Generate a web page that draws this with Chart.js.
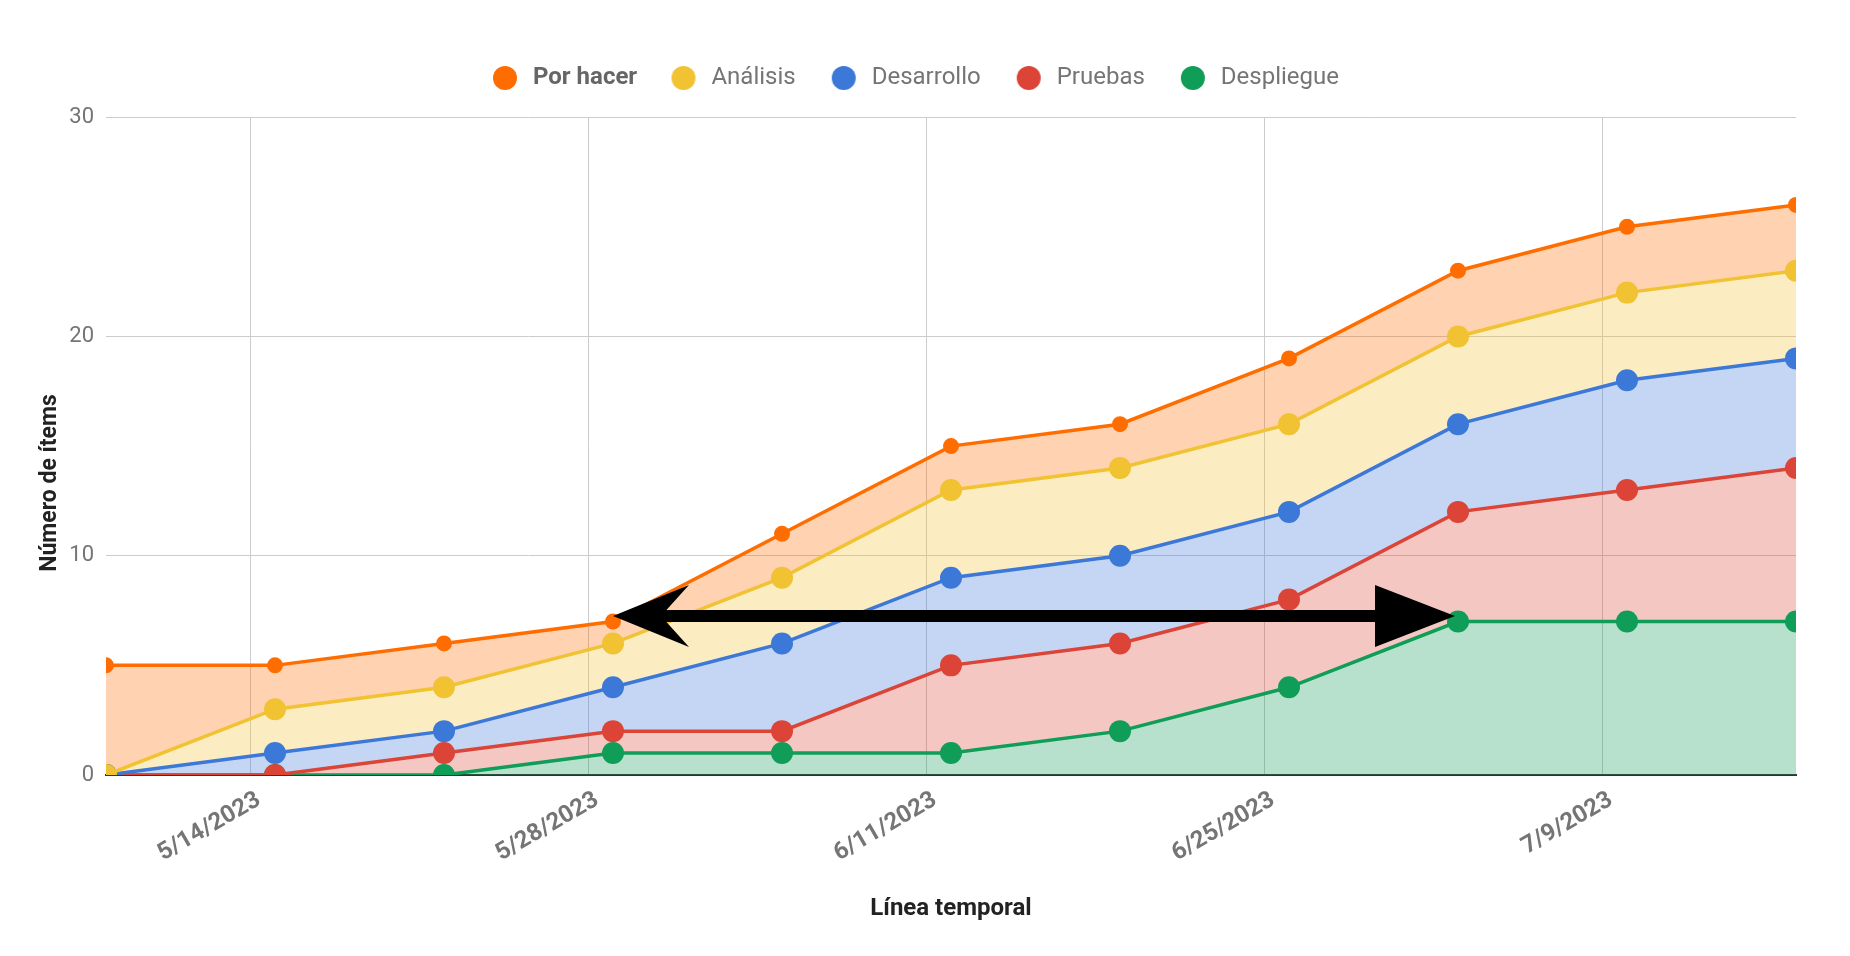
<!DOCTYPE html>
<html>
<head>
<meta charset="utf-8">
<script src="https://cdn.jsdelivr.net/npm/chart.js@4.4.0/dist/chart.umd.min.js"></script>
<style>
  html, body { margin: 0; padding: 0; background: #ffffff; }
  #wrap { width: 1850px; height: 956px; position: relative; }
</style>
</head>
<body>
<div id="wrap"><canvas id="c" width="1850" height="956"></canvas></div>
<script>
// ---------- data ----------
const categories = ['5/8/2023','5/15/2023','5/22/2023','5/29/2023','6/5/2023','6/12/2023','6/19/2023','6/26/2023','7/3/2023','7/10/2023','7/17/2023'];
const seriesNames = ['Por hacer','Análisis','Desarrollo','Pruebas','Despliegue'];
const porHacer   = [5, 5, 6, 7, 11, 15, 16, 19, 23, 25, 26];
const analisis   = [0, 3, 4, 6,  9, 13, 14, 16, 20, 22, 23];
const desarrollo = [0, 1, 2, 4,  6,  9, 10, 12, 16, 18, 19];
const pruebas    = [0, 0, 1, 2,  2,  5,  6,  8, 12, 13, 14];
const despliegue = [0, 0, 0, 1,  1,  1,  2,  4,  7,  7,  7];
const xTickLabels = ['5/14/2023','5/28/2023','6/11/2023','6/25/2023','7/9/2023'];
const yTickValues = [0, 10, 20, 30];
const xTitle = 'Línea temporal';
const yTitle = 'Número de ítems';
const arrowFrom = '5/29/2023';
const arrowTo = '7/3/2023';
const arrowLevel = 7.25;

// ---------- styles ----------
const seriesColors = ['#FF6D01', '#F1C232', '#3C78D8', '#DB4437', '#0F9D58'];
const FONT = 'Roboto';

function dayNum(s) {
  const [m, d, y] = s.split('/').map(Number);
  return Date.UTC(y, m - 1, d) / 86400000;
}
function rgba(hex, a) {
  const n = parseInt(hex.slice(1), 16);
  return `rgba(${(n >> 16) & 255},${(n >> 8) & 255},${n & 255},${a})`;
}
function makeDot(color) {
  const cv = document.createElement('canvas');
  cv.width = 40; cv.height = 26;
  const g = cv.getContext('2d');
  g.fillStyle = color;
  g.beginPath(); g.arc(16, 13, 12, 0, Math.PI * 2); g.fill();
  return cv;
}

const seriesValues = [porHacer, analisis, desarrollo, pruebas, despliegue];
const datasets = seriesValues.map((vals, i) => ({
  label: seriesNames[i],
  data: categories.map((c, j) => ({ x: dayNum(c), y: vals[j] })),
  borderColor: seriesColors[i],
  backgroundColor: rgba(seriesColors[i], 0.3),
  pointBackgroundColor: seriesColors[i],
  pointBorderColor: seriesColors[i],
  pointBorderWidth: 0,
  pointRadius: i === 0 ? 8 : 11,
  borderWidth: 3.5,
  tension: 0,
  fill: i < seriesValues.length - 1 ? '+1' : 'origin',
  clip: 0
}));

const arrowPlugin = {
  id: 'arrowAnno',
  afterDatasetsDraw(chart) {
    const { ctx, scales: { x, y } } = chart;
    const x1 = x.getPixelForValue(dayNum(arrowFrom));
    const x2 = x.getPixelForValue(dayNum(arrowTo)) - 3;
    const yy = y.getPixelForValue(arrowLevel);
    ctx.save();
    ctx.fillStyle = '#000';
    ctx.strokeStyle = '#000';
    ctx.lineWidth = 12;
    ctx.beginPath();
    ctx.moveTo(x1 + 45, yy);
    ctx.lineTo(x2 - 70, yy);
    ctx.stroke();
    ctx.beginPath();
    ctx.moveTo(x1, yy);
    ctx.lineTo(x1 + 76, yy - 31);
    ctx.lineTo(x1 + 48, yy);
    ctx.lineTo(x1 + 76, yy + 31);
    ctx.closePath();
    ctx.fill();
    ctx.beginPath();
    ctx.moveTo(x2, yy);
    ctx.lineTo(x2 - 80, yy - 31);
    ctx.lineTo(x2 - 80, yy + 31);
    ctx.closePath();
    ctx.fill();
    ctx.restore();
  }
};

const extrasPlugin = {
  id: 'extras',
  afterDraw(chart) {
    const { ctx } = chart;
    ctx.save();
    ctx.translate(50, chart.height / 2 + 5);
    ctx.rotate(-Math.PI / 2);
    ctx.font = `bold 23px ${FONT}`;
    ctx.fillStyle = '#222222';
    ctx.textAlign = 'center';
    ctx.textBaseline = 'middle';
    ctx.fillText(yTitle, 0, 0);
    ctx.restore();
    const lg = chart.legend;
    if (lg && lg.legendHitBoxes && lg.legendHitBoxes[0]) {
      const hb = lg.legendHitBoxes[0];
      const tx = hb.left + 24 + 12;
      const ty = hb.top + hb.height / 2;
      ctx.save();
      ctx.font = `24px ${FONT}`;
      const w = ctx.measureText(seriesNames[0]).width;
      ctx.fillStyle = '#ffffff';
      ctx.fillRect(tx - 1, hb.top - 4, w + 3, hb.height + 8);
      ctx.font = `bold 24px ${FONT}`;
      ctx.fillStyle = '#666666';
      ctx.textAlign = 'left';
      ctx.textBaseline = 'middle';
      ctx.fillText(seriesNames[0], tx, ty);
      ctx.restore();
    }
  }
};

Chart.defaults.font.family = FONT;

new Chart(document.getElementById('c'), {
  type: 'line',
  data: { datasets },
  options: {
    responsive: false,
    animation: false,
    events: [],
    layout: { padding: { top: 26, right: 54, bottom: 33, left: 40 } },
    plugins: {
      filler: { drawTime: 'beforeDatasetsDraw' },
      tooltip: { enabled: false },
      title: {
        display: true,
        text: '',
        weight: 100,
        font: { size: 1 },
        padding: { top: 16, bottom: 0 }
      },
      legend: {
        position: 'top',
        align: 'center',
        labels: {
          font: { size: 24, family: FONT },
          color: '#757575',
          usePointStyle: true,
          boxWidth: 24,
          boxHeight: 24,
          padding: 40,
          generateLabels(chart) {
            return chart.data.datasets.map((ds, i) => ({
              text: ds.label,
              fillStyle: ds.borderColor,
              strokeStyle: ds.borderColor,
              lineWidth: 0,
              pointStyle: makeDot(ds.borderColor),
              hidden: false,
              datasetIndex: i,
              fontColor: '#757575'
            }));
          }
        }
      }
    },
    scales: {
      x: {
        type: 'linear',
        min: dayNum(categories[0]),
        max: dayNum(categories[categories.length - 1]),
        afterBuildTicks(scale) {
          scale.ticks = xTickLabels.map(s => ({ value: dayNum(s) }));
        },
        afterFit(scale) { scale.height = 148; },
        grid: { color: '#cccccc', lineWidth: 1, drawTicks: false },
        border: { display: true, color: '#333333', width: 2 },
        ticks: {
          autoSkip: false,
          maxRotation: 30,
          minRotation: 30,
          padding: 11,
          labelOffset: 8,
          color: '#757575',
          font: { size: 24, weight: 'bold', family: FONT },
          callback(value, index) { return xTickLabels[index]; }
        },
        title: {
          display: true,
          text: xTitle,
          color: '#222222',
          font: { size: 24, weight: 'bold', family: FONT },
          padding: { top: 0, bottom: 0 }
        }
      },
      y: {
        min: 0,
        max: 30,
        afterBuildTicks(scale) {
          scale.ticks = yTickValues.map(v => ({ value: v }));
        },
        afterFit(scale) { scale.width = 66; },
        grid: { color: '#cccccc', lineWidth: 1, drawTicks: false },
        border: { display: false },
        ticks: {
          padding: 12,
          color: '#757575',
          font: { size: 22, family: FONT }
        }
      }
    }
  },
  plugins: [arrowPlugin, extrasPlugin]
});
</script>
</body>
</html>
